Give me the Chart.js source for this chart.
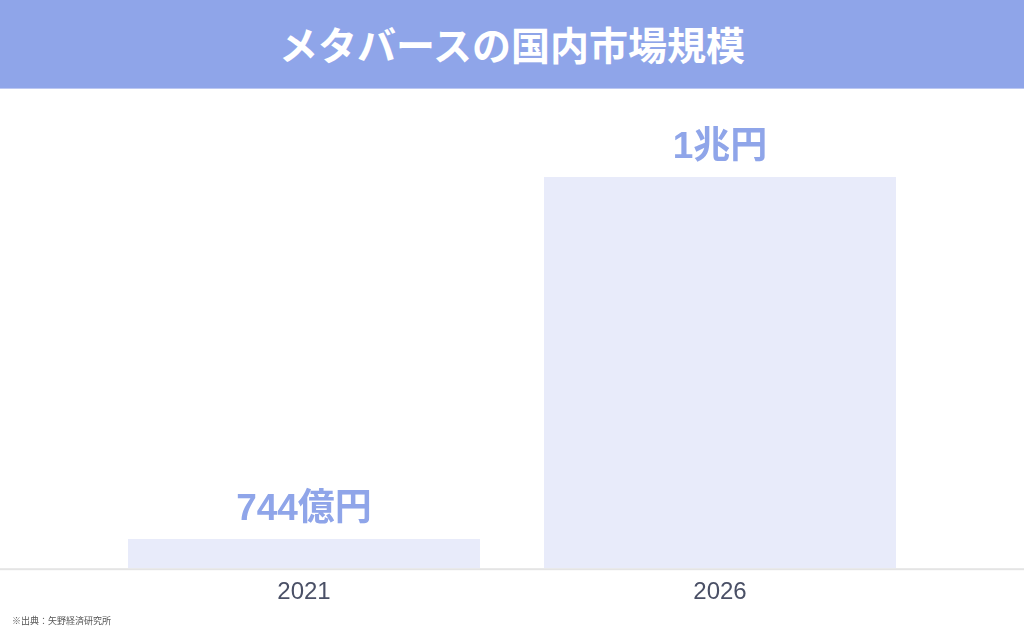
<!DOCTYPE html>
<html lang="ja">
<head>
<meta charset="utf-8">
<script src="https://cdn.jsdelivr.net/npm/chart.js@4.4.1/dist/chart.umd.min.js"></script>
<style>
  html, body { margin: 0; padding: 0; background: #fff; }
  body { width: 1024px; height: 640px; position: relative; overflow: hidden; }
  #banner {
    position: absolute; left: 0; top: 0; width: 1024px; height: 86px; padding-bottom: 2px;
    background: #8fa5e9; border-bottom: 1px solid #bcc8f2;
    color: #fff; font: bold 39px "Liberation Sans", "Noto Sans CJK JP", sans-serif;
    display: flex; align-items: center; justify-content: center; letter-spacing: 0;
  }
  #wrap { position: absolute; left: 0; top: 89px; width: 1024px; height: 551px; }
  #source {
    position: absolute; left: 12px; top: 614px;
    font: 9px "Noto Sans CJK JP", sans-serif; color: #555;
  }
</style>
</head>
<body>
<div id="banner">メタバースの国内市場規模</div>
<div id="wrap"><canvas id="grafico"></canvas></div>
<div id="source">※出典：矢野経済研究所</div>
<script>
// dados (億円)
const anos = ['2021', '2026'];
const valores = [744, 10000];
const rotulos = ['744億円', '1兆円'];

const corBarra = '#e8ebfa';
const corRotulo = '#8fa5e9';

// linha do eixo em toda a largura
const linhaEixo = {
  id: 'linhaEixo',
  beforeDatasetsDraw(chart) {
    const { ctx, chartArea } = chart;
    ctx.save();
    ctx.fillStyle = '#e4e4e4';
    ctx.fillRect(0, chartArea.bottom, chart.width, 2);
    ctx.restore();
  }
};

// rótulo de valor acima de cada barra
const rotuloValor = {
  id: 'rotuloValor',
  afterDatasetsDraw(chart) {
    const { ctx } = chart;
    const meta = chart.getDatasetMeta(0);
    ctx.save();
    ctx.font = 'bold 37px "Liberation Sans", "Noto Sans CJK JP", sans-serif';
    ctx.fillStyle = corRotulo;
    ctx.textAlign = 'center';
    ctx.textBaseline = 'alphabetic';
    meta.data.forEach((bar, i) => {
      ctx.fillText(rotulos[i], bar.x, bar.y - 19);
    });
    ctx.restore();
  }
};

new Chart(document.getElementById('grafico').getContext('2d'), {
  type: 'bar',
  data: {
    labels: anos,
    datasets: [{
      data: valores,
      backgroundColor: corBarra,
      borderWidth: 0,
      barPercentage: 0.846,
      categoryPercentage: 1
    }]
  },
  options: {
    responsive: true,
    maintainAspectRatio: false,
    animation: false,
    layout: { padding: { top: 88, left: 96, right: 96, bottom: 23 } },
    plugins: { legend: { display: false }, tooltip: { enabled: false } },
    scales: {
      x: {
        grid: { display: false, drawTicks: false },
        border: { display: false },
        ticks: {
          color: '#4a5066',
          padding: 10,
          font: { family: '"Liberation Sans", sans-serif', size: 24 }
        }
      },
      y: { display: false, min: 0, max: 10000 }
    }
  },
  plugins: [linhaEixo, rotuloValor]
});
</script>
</body>
</html>
